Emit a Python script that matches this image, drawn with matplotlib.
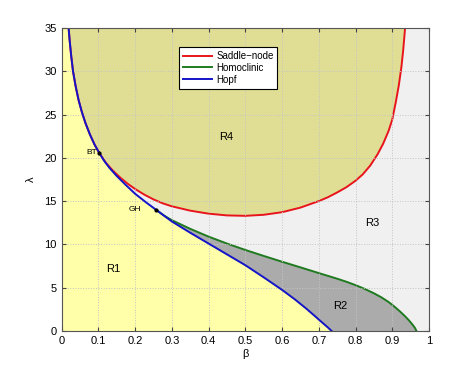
import numpy as np
import matplotlib
matplotlib.use('Agg')
import matplotlib.pyplot as plt

plt.rcParams['font.family'] = ['Liberation Sans', 'DejaVu Sans']

# curves (beta, lambda)
hopf_b = [0.019, 0.022, 0.026, 0.031, 0.038, 0.046, 0.055, 0.065, 0.077, 0.09, 0.102, 0.115,
          0.13, 0.15, 0.175, 0.2, 0.23, 0.257, 0.3, 0.35, 0.4, 0.45, 0.5, 0.55, 0.6, 0.635,
          0.667, 0.69, 0.71, 0.725, 0.735]
hopf_l = [35, 33.5, 31.8, 30.0, 28.3, 26.7, 25.3, 24.0, 22.7, 21.5, 20.6, 19.7,
          18.85, 17.9, 16.85, 15.85, 14.85, 14.0, 12.65, 11.35, 10.1, 8.85, 7.6, 6.2, 4.75, 3.65,
          2.55, 1.7, 0.95, 0.4, 0.0]

sn_b = [0.102, 0.12, 0.14, 0.16, 0.18, 0.2, 0.225, 0.25, 0.275, 0.3, 0.35, 0.4, 0.45, 0.5,
        0.55, 0.6, 0.65, 0.7, 0.725, 0.75, 0.775, 0.8, 0.82, 0.84, 0.86, 0.875, 0.89, 0.9,
        0.91, 0.918, 0.925, 0.93, 0.935]
sn_l = [20.6, 19.45, 18.5, 17.7, 17.0, 16.4, 15.75, 15.2, 14.75, 14.4, 13.9, 13.55, 13.35, 13.3,
        13.42, 13.72, 14.25, 15.0, 15.45, 16.0, 16.6, 17.35, 18.1, 19.1, 20.4, 21.6, 23.1, 24.4,
        26.5, 28.4, 30.5, 32.5, 35.0]

hom_b = [0.257, 0.28, 0.3, 0.35, 0.4, 0.45, 0.5, 0.55, 0.6, 0.65, 0.7, 0.75, 0.775, 0.8,
         0.825, 0.85, 0.87, 0.89, 0.905, 0.92, 0.935, 0.945, 0.955, 0.962, 0.966]
hom_l = [14.0, 13.3, 12.8, 11.8, 10.9, 10.1, 9.36, 8.67, 8.0, 7.35, 6.69, 6.04, 5.69, 5.3,
         4.86, 4.36, 3.9, 3.35, 2.85, 2.3, 1.7, 1.25, 0.75, 0.35, 0.0]

bt = (0.102, 20.6)
gh = (0.257, 14.0)

regions = ['R1', 'R2', 'R3', 'R4']
region_pos = [(0.141, 7.2), (0.758, 2.9), (0.846, 12.5), (0.448, 22.45)]

fig = plt.figure(figsize=(4.74, 3.73), dpi=100)
ax = fig.add_axes([0.13, 0.1126, 0.775, 0.8125])
ax.set_facecolor('#f0f0f0')

hb = np.array(hopf_b); hl = np.array(hopf_l)
sb = np.array(sn_b); sl = np.array(sn_l)
gb = np.array(hom_b); gl = np.array(hom_l)

# R1 : below the Hopf curve
ax.fill(np.concatenate(([0, 0], hb)), np.concatenate(([0, 35], hl)),
        color='#ffffaa', lw=0, zorder=0)
# R4 : above the saddle-node curve (which follows Hopf down to BT)
upper = hb <= bt[0]
r4b = np.concatenate((hb[upper], sb[1:]))
r4l = np.concatenate((hl[upper], sl[1:]))
ax.fill(r4b, r4l, color='#e0dd94', lw=0, zorder=0)
# R2 : between homoclinic and Hopf
lower = hb >= gh[0]
ax.fill(np.concatenate((gb, hb[lower][::-1])), np.concatenate((gl, hl[lower][::-1])),
        color='#ababab', lw=0, zorder=0)

ax.plot(r4b, r4l, color='#e8141c', lw=1.4, label='Saddle\u2212node', zorder=2)
ax.plot(gb, gl, color='#1f7a1f', lw=1.4, label='Homoclinic', zorder=2)
ax.plot(hb, hl, color='#1414c8', lw=1.4, label='Hopf', zorder=3)

ax.plot(*bt, 'ko', ms=2, zorder=4)
ax.plot(*gh, 'ko', ms=2, zorder=4)
ax.text(bt[0] - 0.004, bt[1], 'BT', fontsize=6, ha='right', va='center')
ax.text(0.2, 14.0, 'GH', fontsize=6, ha='center', va='center')

for name, (x, y) in zip(regions, region_pos):
    ax.text(x, y, name, fontsize=8, ha='center', va='center')

ax.set_xlim(0, 1)
ax.set_ylim(0, 35)
ax.set_xticks(np.arange(0, 1.01, 0.1))
ax.set_xticklabels(['0', '0.1', '0.2', '0.3', '0.4', '0.5', '0.6', '0.7', '0.8', '0.9', '1'])
ax.set_yticks(np.arange(0, 36, 5))
ax.tick_params(direction='in', top=True, right=True, labelsize=8, length=3, color='#444444')
ax.grid(True, linestyle=':', color='#c4c4c4', lw=0.7)
ax.set_axisbelow(False)
for s in ax.spines.values():
    s.set_color('#555555')
    s.set_zorder(5)
ax.set_xlabel('\u03b2', fontsize=8, labelpad=2)
ax.set_ylabel('\u03bb', fontsize=8, labelpad=6)

leg = ax.legend(loc='upper left', bbox_to_anchor=(0.32, 0.937), borderaxespad=0, fontsize=7,
                fancybox=False, framealpha=1, edgecolor='black', handlelength=3.0,
                borderpad=0.4, labelspacing=0.2, handletextpad=0.4)
leg.get_frame().set_linewidth(0.8)

fig.savefig('out.png', dpi=100)
